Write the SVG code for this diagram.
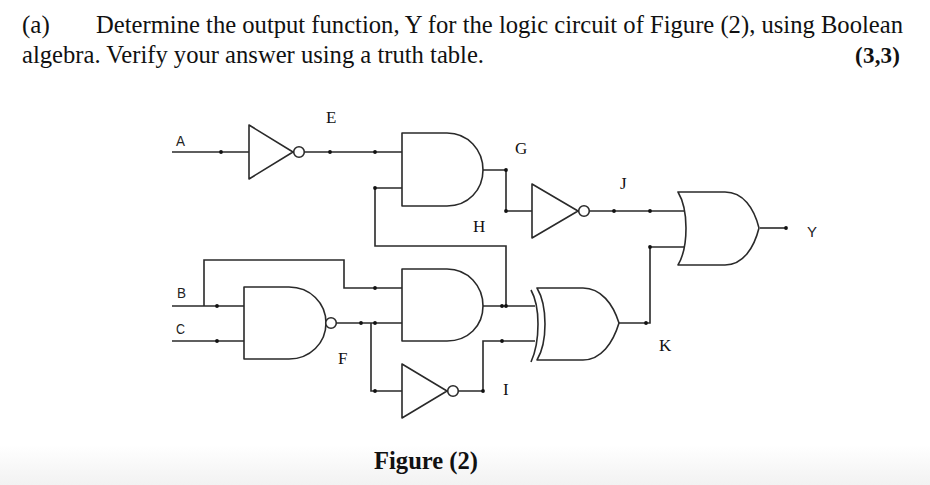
<svg xmlns="http://www.w3.org/2000/svg" width="930" height="485" viewBox="0 0 930 485">
<style>
.w{fill:none;stroke:#2a2a2a;stroke-width:1.6}
.g{fill:#fff;stroke:#2a2a2a;stroke-width:1.6;stroke-linejoin:round}
.d{fill:#111}
.h{font-family:"Liberation Serif","Times New Roman",serif;font-size:25px;fill:#111}
.l{font-family:"Liberation Serif","Times New Roman",serif;font-size:17px;fill:#111}
.s{font-family:"Liberation Sans",Arial,sans-serif;font-size:14px;fill:#222}
.b{font-family:"Liberation Serif","Times New Roman",serif;font-weight:bold;fill:#111}
</style>
<defs>
<circle id="dot" class="d" r="1.9"/>
<linearGradient id="fade" x1="0" y1="0" x2="0" y2="1"><stop offset="0" stop-color="#fff"/><stop offset="1" stop-color="#f2f2f2"/></linearGradient>
</defs>
<rect width="930" height="485" fill="#fff"/>
<rect y="445" width="930" height="40" fill="url(#fade)"/>
<g id="question">
<text class="h" x="22" y="33">(a)</text>
<text class="h" x="96" y="33" textLength="807" lengthAdjust="spacingAndGlyphs">Determine the output function, Y for the logic circuit of Figure (2), using Boolean</text>
<text class="h" x="22" y="63" textLength="462" lengthAdjust="spacingAndGlyphs">algebra. Verify your answer using a truth table.</text>
<text class="b" x="855" y="63" font-size="23" textLength="45" lengthAdjust="spacing">(3,3)</text>
</g>
<g id="connectors">
<path class="w" d="M172 152H249M305 152H402"/>
<path class="w" d="M375 188H402M375 188V246H506V306"/>
<path class="w" d="M483 170H506V211H532"/>
<path class="w" d="M590 211H684"/>
<path class="w" d="M172 306H244M204 306V260H344V288H402"/>
<path class="w" d="M172 341H244"/>
<path class="w" d="M337 323H402M371 323V391H402"/>
<path class="w" d="M459 391H483V341H535"/>
<path class="w" d="M483 306H535"/>
<path class="w" d="M619 323H650V247H684"/>
<path class="w" d="M760 228H786"/>
<g>
<use href="#dot" x="221" y="152"/><use href="#dot" x="330" y="152"/><use href="#dot" x="375" y="152"/>
<use href="#dot" x="375" y="188"/><use href="#dot" x="506" y="170"/><use href="#dot" x="506" y="211"/>
<use href="#dot" x="614" y="211"/><use href="#dot" x="650" y="211"/><use href="#dot" x="650" y="247"/>
<use href="#dot" x="217" y="306"/><use href="#dot" x="217" y="341"/><use href="#dot" x="375" y="288"/>
<use href="#dot" x="361" y="323"/><use href="#dot" x="375" y="323"/><use href="#dot" x="375" y="391"/>
<use href="#dot" x="483" y="391"/><use href="#dot" x="502" y="306"/><use href="#dot" x="506" y="306"/>
<use href="#dot" x="502" y="341"/><use href="#dot" x="646" y="323"/><use href="#dot" x="786" y="228"/>
</g>
</g>
<g id="not-e"><path class="g" d="M249 125V179L293 152Z"/><circle class="g" cx="299" cy="152" r="5.3"/></g>
<g id="and-g"><path class="g" d="M402 133H447C468 133 483 150 483 170C483 190 468 206 447 206H402Z"/></g>
<g id="not-j"><path class="g" d="M532 184V238L578 211Z"/><circle class="g" cx="584" cy="211" r="5.3"/></g>
<g id="or-y"><path class="g" d="M678 192H725C743 192 754 208 759 228C754 248 743 265 725 265H678C684 255 686 242 686 228C686 214 684 202 678 192Z"/></g>
<g id="nand-f"><path class="g" d="M244 287H289C310 287 326 303 326 323C326 343 310 359 289 359H244Z"/><circle class="g" cx="331" cy="323" r="5.3"/></g>
<g id="and-h"><path class="g" d="M402 269H447C468 269 483 286 483 306C483 326 468 341 447 341H402Z"/></g>
<g id="not-i"><path class="g" d="M402 364V418L447 391Z"/><circle class="g" cx="453" cy="391" r="5.3"/></g>
<g id="xor-k"><path class="g" d="M537 288H583C601 288 613 304 619 323C613 343 601 360 583 360H537C543 350 545 337 545 324C545 311 543 298 537 288Z"/><path class="w" d="M531 290C536 299 538 311 538 324C538 338 536 351 531 362"/></g>
<g id="labels">
<text class="s" x="176" y="146" textLength="9" lengthAdjust="spacingAndGlyphs">A</text>
<text class="s" x="177" y="298" textLength="9" lengthAdjust="spacingAndGlyphs">B</text>
<text class="s" x="176" y="334" textLength="9" lengthAdjust="spacingAndGlyphs">C</text>
<text class="s" x="807" y="237" textLength="10" lengthAdjust="spacingAndGlyphs">Y</text>
<text class="l" x="326" y="123">E</text>
<text class="l" x="515" y="154">G</text>
<text class="l" x="473" y="232">H</text>
<text class="l" x="620" y="189">J</text>
<text class="l" x="338" y="364">F</text>
<text class="l" x="503" y="395">I</text>
<text class="l" x="659" y="351">K</text>
<text class="b" x="374" y="469" font-size="24.5" textLength="104" lengthAdjust="spacingAndGlyphs">Figure (2)</text>
</g>
</svg>
